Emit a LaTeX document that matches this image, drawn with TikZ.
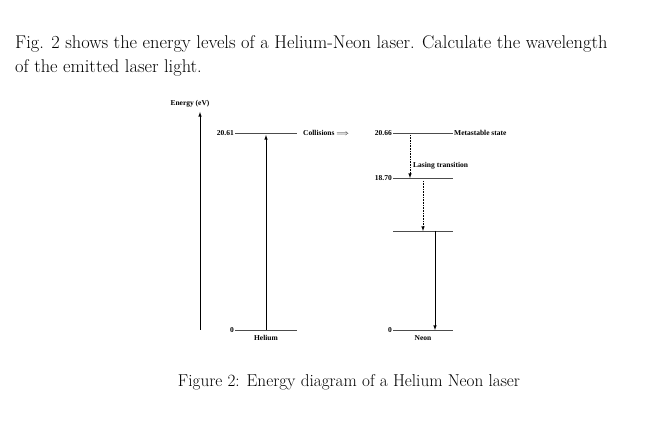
\documentclass[tikz,border=0pt]{standalone}
\usepackage{fontspec}
\newfontfamily\lab{Liberation Serif}
\begin{document}
\begin{tikzpicture}[x=1pt,y=-1pt,
  lvl/.style={draw=black!70,line width=0.6pt},
  ar/.style={-latex,line width=0.6pt},
  dar/.style={-latex,line width=0.6pt,densely dotted},
  sm/.style={font=\lab\fontsize{7.5}{8}\selectfont\bfseries,inner sep=1pt}]
\useasboundingbox (0,0) rectangle (670,430);
\node[anchor=west,align=left,font=\fontsize{18.4}{24}\selectfont,inner sep=0] (t) at (15,56)
 {Fig. 2 shows the energy levels of a Helium-Neon laser. Calculate the wavelength\\of the emitted laser light.};
\node[sm] (en) at (190,104) {Energy (eV)};
\coordinate (a0) at (200,330);
\coordinate (a1) at (200,112);
\draw[ar] (a0) -- (a1);
% helium
\coordinate (h1a) at (235,133); \coordinate (h1b) at (297,133);
\coordinate (h0a) at (235,330); \coordinate (h0b) at (297,330);
\draw[lvl] (h1a) -- (h1b); \draw[lvl] (h0a) -- (h0b);
\node[sm,anchor=east] (l1) at (h1a) {20.61};
\node[sm,anchor=east] (l0) at (h0a) {0};
\node[sm] (he) at (266,338) {Helium};
\coordinate (ha) at (266,330); \coordinate (hb) at (266,135);
\draw[ar] (ha) -- (hb);
\node[sm,anchor=west] (col) at (302,133) {Collisions $\Longrightarrow$};
% neon
\coordinate (n1a) at (393,133); \coordinate (n1b) at (453,133);
\coordinate (n2a) at (393,178); \coordinate (n2b) at (453,178);
\coordinate (n3a) at (393,231); \coordinate (n3b) at (453,231);
\coordinate (n0a) at (393,330); \coordinate (n0b) at (453,330);
\foreach \p in {1,2,3,0} \draw[lvl] (n\p a) -- (n\p b);
\node[sm,anchor=east] (m1) at (n1a) {20.66};
\node[sm,anchor=east] (m2) at (n2a) {18.70};
\node[sm,anchor=east] (m0) at (n0a) {0};
\node[sm] (ne) at (423,338) {Neon};
\node[sm,anchor=west] (ms) at (n1b) {Metastable state};
\node[sm,anchor=west] (lt) at (412,166) {Lasing transition};
\coordinate (d1a) at (410,135); \coordinate (d1b) at (410,178);
\coordinate (d2a) at (423,181); \coordinate (d2b) at (423,231);
\coordinate (d3a) at (435,231); \coordinate (d3b) at (435,330);
\draw[dar] (d1a) -- (d1b);
\draw[dar] (d2a) -- (d2b);
\draw[ar] (d3a) -- (d3b);
\node[font=\fontsize{17.2}{19}\selectfont] (cap) at (349,382) {Figure 2: Energy diagram of a Helium Neon laser};
\end{tikzpicture}
\end{document}
